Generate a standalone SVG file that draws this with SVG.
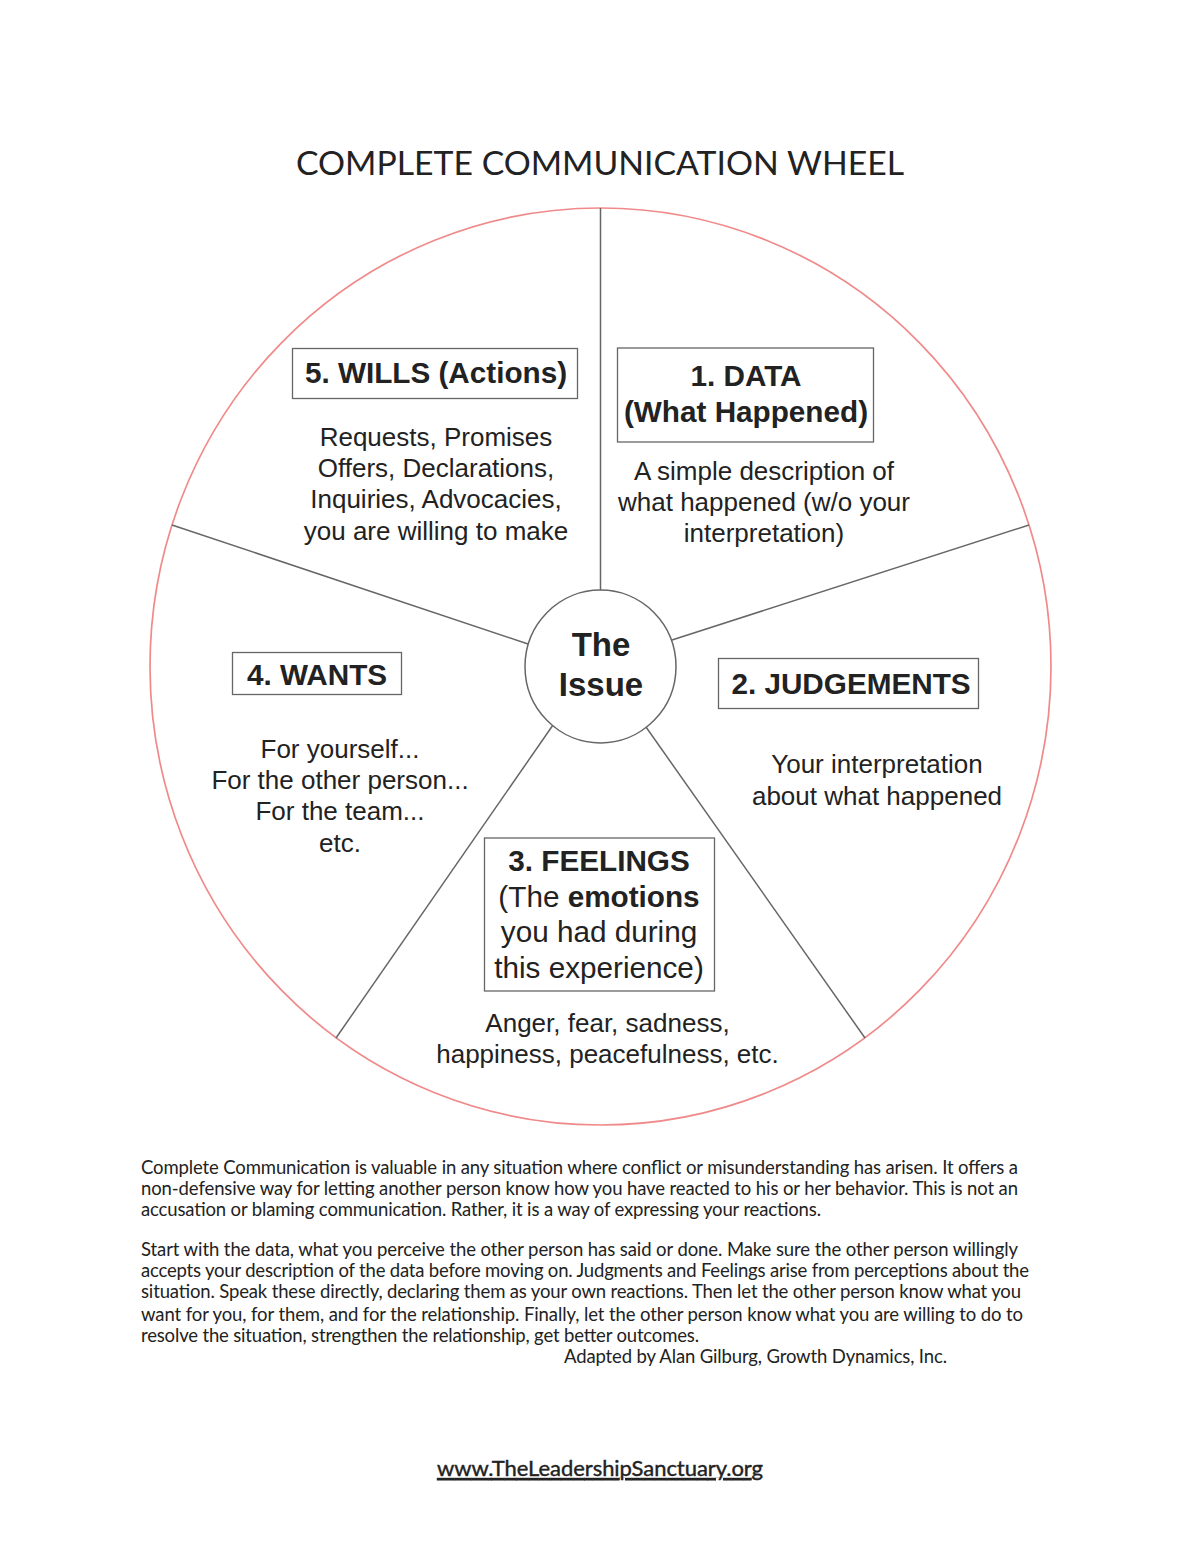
<svg xmlns="http://www.w3.org/2000/svg" width="1200" height="1553" viewBox="0 0 1200 1553">
<style>
.h{font-family:"Liberation Sans",Arial,sans-serif;font-size:29.7px;font-weight:bold;fill:#222;text-anchor:middle}
.b{font-family:"Liberation Sans",Arial,sans-serif;font-size:26px;fill:#222;text-anchor:middle}
.box{fill:#fff;stroke:#666;stroke-width:1.3}
.sp{stroke:#666;stroke-width:1.5;fill:none}
.p{font-family:"Lato","Open Sans",sans-serif;font-size:18.5px;fill:#222}
</style>
<rect width="1200" height="1553" fill="#fff"/>
<text id="title" x="600" y="175" font-family="Lato,'Open Sans',sans-serif" font-size="33.5" fill="#222" text-anchor="middle" textLength="608" lengthAdjust="spacingAndGlyphs">COMPLETE COMMUNICATION WHEEL</text>
<ellipse id="wheel" cx="600.500" cy="666.500" rx="450.500" ry="458.500" fill="#fff" stroke="#f08a8a" stroke-width="1.700"/>
<g id="connectors">
<line class="sp" x1="600.500" y1="208" x2="600.500" y2="590"/>
<line class="sp" x1="1029" y1="525" x2="672" y2="640"/>
<line class="sp" x1="865" y1="1038" x2="646" y2="727"/>
<line class="sp" x1="336" y1="1038" x2="553" y2="725"/>
<line class="sp" x1="172" y1="525" x2="528" y2="644"/>
</g>
<g id="center"><ellipse cx="600.500" cy="666.500" rx="75.500" ry="76.500" fill="#fff" stroke="#666" stroke-width="1.500"/>
<text class="h" x="601" y="656" style="font-size:33px">The</text><text class="h" x="601" y="696" style="font-size:33px">Issue</text></g>
<g id="n1"><rect class="box" x="617.500" y="348" width="256" height="94"/><text class="h" x="746" y="386">1. DATA</text><text class="h" x="746" y="422">(What Happened)</text>
<text class="b" x="764" y="480">A simple description of</text><text class="b" x="764" y="511">what happened (w/o your</text><text class="b" x="764" y="542">interpretation)</text></g>
<g id="n2"><rect class="box" x="718.500" y="658.500" width="260" height="50"/><text class="h" x="851" y="694">2. JUDGEMENTS</text>
<text class="b" x="877" y="773">Your interpretation</text><text class="b" x="877" y="804.500">about what happened</text></g>
<g id="n3"><rect class="box" x="484.500" y="838" width="230" height="153"/><text class="h" x="599" y="870.500">3. FEELINGS</text>
<text class="h" x="599" y="906.500" style="font-weight:normal">(The <tspan font-weight="bold">emotions</tspan></text><text class="h" x="599" y="942" style="font-weight:normal">you had during</text><text class="h" x="599" y="977.500" style="font-weight:normal">this experience)</text>
<text class="b" x="607.500" y="1031.500">Anger, fear, sadness,</text><text class="b" x="607.500" y="1063">happiness, peacefulness, etc.</text></g>
<g id="n4"><rect class="box" x="232.500" y="652.500" width="169" height="42"/><text class="h" x="317" y="685">4. WANTS</text>
<text class="b" x="340" y="758">For yourself...</text><text class="b" x="340" y="789">For the other person...</text><text class="b" x="340" y="820">For the team...</text><text class="b" x="340" y="852">etc.</text></g>
<g id="n5"><rect class="box" x="292.500" y="348.500" width="285" height="50"/><text class="h" x="436" y="383">5. WILLS (Actions)</text>
<text class="b" x="436" y="445.500">Requests, Promises</text><text class="b" x="436" y="477">Offers, Declarations,</text><text class="b" x="436" y="508">Inquiries, Advocacies,</text><text class="b" x="436" y="540">you are willing to make</text></g>
<g id="body">
<text class="p" x="141" y="1174" textLength="877" lengthAdjust="spacing">Complete Communication is valuable in any situation where conflict or misunderstanding has arisen. It offers a</text>
<text class="p" x="141" y="1195" textLength="877" lengthAdjust="spacing">non-defensive way for letting another person know how you have reacted to his or her behavior. This is not an</text>
<text class="p" x="141" y="1216" textLength="680" lengthAdjust="spacing">accusation or blaming communication. Rather, it is a way of expressing your reactions.</text>
<text class="p" x="141" y="1256" textLength="877" lengthAdjust="spacing">Start with the data, what you perceive the other person has said or done. Make sure the other person willingly</text>
<text class="p" x="141" y="1277" textLength="888" lengthAdjust="spacing">accepts your description of the data before moving on. Judgments and Feelings arise from perceptions about the</text>
<text class="p" x="141" y="1298" textLength="880" lengthAdjust="spacing">situation. Speak these directly, declaring them as your own reactions. Then let the other person know what you</text>
<text class="p" x="141" y="1321" textLength="882" lengthAdjust="spacing">want for you, for them, and for the relationship. Finally, let the other person know what you are willing to do to</text>
<text class="p" x="141" y="1342" textLength="558" lengthAdjust="spacing">resolve the situation, strengthen the relationship, get better outcomes.</text>
<text class="p" x="564" y="1363" textLength="383" lengthAdjust="spacing">Adapted by Alan Gilburg, Growth Dynamics, Inc.</text>
</g>
<text id="url" x="600" y="1476" font-family="Lato,'Open Sans',sans-serif" font-size="22" fill="#222" text-anchor="middle" text-decoration="underline" stroke="#222" stroke-width="0.400" textLength="326" lengthAdjust="spacing">www.TheLeadershipSanctuary.org</text>
</svg>
